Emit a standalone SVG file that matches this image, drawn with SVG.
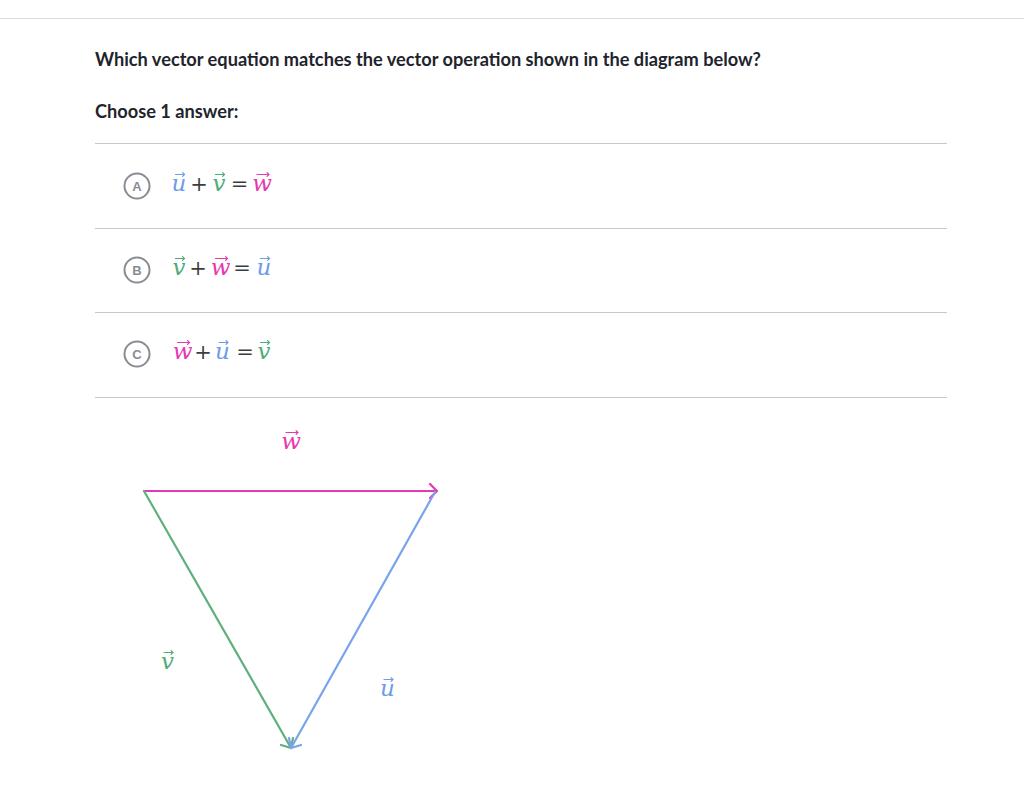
<svg xmlns="http://www.w3.org/2000/svg" width="1024" height="798" viewBox="0 0 1024 798">
<style>
.q{font-family:Lato,"Liberation Sans",sans-serif;font-weight:bold;fill:#21242c;font-size:18.2px}
.sep{stroke:#c6c7c9;stroke-width:1}
.opt circle{fill:#fff;stroke:#898c92;stroke-width:2}
.opt .l{font-family:"Liberation Sans",Arial,sans-serif;font-weight:bold;font-size:13px;fill:#898c92;text-anchor:middle}
.m{font-family:"DejaVu Serif","Liberation Serif",serif;font-style:italic;font-size:23px;text-anchor:middle}
.op{font-family:"DejaVu Serif","Liberation Serif",serif;font-size:21px;fill:#3b3e40;text-anchor:middle}
.u{fill:#6f9be8}.v{fill:#4fab79}.w{fill:#e43ab1}
.au{stroke:#6f9be8}.av{stroke:#4fab79}.aw{stroke:#e43ab1}
.vec{fill:none;stroke-width:2.2;stroke-linecap:round;stroke-linejoin:round}
</style>
<defs>
<path id="ar" d="M-4.5,0 H4.5 M2.6,-1.9 L4.5,0 L2.6,1.9" fill="none" stroke-width="1.2" stroke-linecap="round"/>
<path id="arw" d="M-6,0 H6 M4.1,-1.9 L6,0 L4.1,1.9" fill="none" stroke-width="1.2" stroke-linecap="round"/>
</defs>
<rect width="1024" height="798" fill="#fff"/>
<line x1="0" y1="18.5" x2="1024" y2="18.5" stroke="#dcdcdc" stroke-width="1"/>
<text class="q" x="95" y="66">Which vector equation matches the vector operation shown in the diagram below?</text>
<text class="q" x="95" y="118">Choose 1 answer:</text>
<g id="separators">
<line class="sep" x1="95" y1="143.5" x2="947" y2="143.5"/>
<line class="sep" x1="95" y1="228.5" x2="947" y2="228.5"/>
<line class="sep" x1="95" y1="312.5" x2="947" y2="312.5"/>
<line class="sep" x1="95" y1="397.5" x2="947" y2="397.5"/>
</g>
<g id="optA" class="opt">
<circle cx="137" cy="186" r="12.5"/>
<text class="l" x="137" y="190.5">A</text>
<text class="m u" x="179" y="191">u</text>
<text class="op" x="199" y="191">+</text>
<text class="m v" x="219" y="191">v</text>
<text class="op" x="239.5" y="191">=</text>
<text class="m w" x="262" y="191">w</text>
<use href="#ar" class="au" x="180" y="174.5"/>
<use href="#ar" class="av" x="220" y="174.5"/>
<use href="#arw" class="aw" x="263" y="174.5"/>
</g>
<g id="optB" class="opt">
<circle cx="137" cy="270" r="12.5"/>
<text class="l" x="137" y="274.5">B</text>
<text class="m v" x="179" y="275">v</text>
<text class="op" x="198" y="275">+</text>
<text class="m w" x="220.5" y="275">w</text>
<text class="op" x="242" y="275">=</text>
<text class="m u" x="264" y="275">u</text>
<use href="#ar" class="av" x="180" y="258.5"/>
<use href="#arw" class="aw" x="221.5" y="258.5"/>
<use href="#ar" class="au" x="265" y="258.5"/>
</g>
<g id="optC" class="opt">
<circle cx="137" cy="354" r="12.5"/>
<text class="l" x="137" y="358.5">C</text>
<text class="m w" x="182.5" y="359">w</text>
<text class="op" x="203" y="359">+</text>
<text class="m u" x="222.5" y="359">u</text>
<text class="op" x="245" y="359">=</text>
<text class="m v" x="264" y="359">v</text>
<use href="#arw" class="aw" x="183.5" y="342.5"/>
<use href="#ar" class="au" x="223.5" y="342.5"/>
<use href="#ar" class="av" x="265" y="342.5"/>
</g>
<g id="connectors">
<path class="vec" stroke="#e43ab1" d="M144,491 H437 M430,484 L437,491 L430,498"/>
<path class="vec" stroke="#5fb07f" d="M144,491 L291,748 M281,745 L291,748 L293,738"/>
<path class="vec" stroke="#7aa3ee" d="M435,492 L291,748 M289,738 L291,748 L301,745"/>
</g>
<g id="labels">
<text class="m w" x="291" y="449">w</text>
<use href="#arw" class="aw" x="292" y="432.5"/>
<text class="m v" x="167.5" y="669">v</text>
<use href="#ar" class="av" x="168.5" y="652.5"/>
<text class="m u" x="387.5" y="696">u</text>
<use href="#ar" class="au" x="388.5" y="679.5"/>
</g>
</svg>
